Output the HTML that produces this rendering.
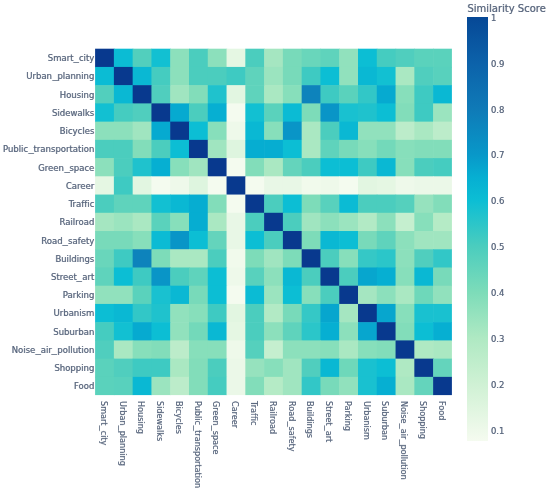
<!DOCTYPE html>
<html><head><meta charset="utf-8"><style>
html,body{margin:0;padding:0;background:#fff;width:550px;height:493px;overflow:hidden;position:relative}
body{font-family:"DejaVu Sans", "Liberation Sans", sans-serif;color:#5b687f;font-variant-ligatures:none}
.yl,.xl,.ct,#title{text-shadow:0.35px 0.35px 0 rgba(91,104,127,0.4),-0.35px -0.35px 0 rgba(91,104,127,0.4)}
.yl{position:absolute;right:455.70px;height:12px;line-height:12px;font-size:8.5px;white-space:nowrap;text-align:right}
.xl{position:absolute;top:400.60px;height:12px;line-height:12px;font-size:8.1px;white-space:nowrap;transform-origin:0 0;transform:rotate(90deg)}
.xl span{}
.ct{position:absolute;left:490.90px;height:12px;line-height:12px;font-size:8.5px;white-space:nowrap}

.u{display:inline-block;transform:scaleX(1.28);margin:0 0.6px}
#cb{position:absolute;left:467.20px;top:17.30px;width:20.70px;height:424.10px;background:linear-gradient(to top, rgb(245,251,240) 0.00%, rgb(238,249,234) 2.60%, rgb(207,241,212) 13.42%, rgb(175,233,195) 24.24%, rgb(125,220,185) 35.06%, rgb(75,205,190) 45.89%, rgb(12,190,212) 56.71%, rgb(6,175,210) 62.12%, rgb(8,152,201) 67.53%, rgb(15,122,183) 78.35%, rgb(12,98,170) 89.18%, rgb(6,72,150) 100.00%)}
#title{position:absolute;left:467.40px;top:2.50px;font-size:10px;line-height:12px;white-space:nowrap}
</style></head><body>
<svg width="550" height="493" style="position:absolute;left:0;top:0"><rect x="95.10" y="48.70" width="19.38" height="18.83" fill="rgb(8,57,142)"/><rect x="113.88" y="48.70" width="19.38" height="18.83" fill="rgb(11,188,212)"/><rect x="132.66" y="48.70" width="19.38" height="18.83" fill="rgb(82,207,189)"/><rect x="151.44" y="48.70" width="19.38" height="18.83" fill="rgb(18,192,210)"/><rect x="170.22" y="48.70" width="19.38" height="18.83" fill="rgb(140,224,188)"/><rect x="188.99" y="48.70" width="19.38" height="18.83" fill="rgb(75,205,190)"/><rect x="207.77" y="48.70" width="19.38" height="18.83" fill="rgb(140,224,188)"/><rect x="226.55" y="48.70" width="19.38" height="18.83" fill="rgb(229,247,227)"/><rect x="245.33" y="48.70" width="19.38" height="18.83" fill="rgb(75,205,190)"/><rect x="264.11" y="48.70" width="19.38" height="18.83" fill="rgb(165,230,193)"/><rect x="282.89" y="48.70" width="19.38" height="18.83" fill="rgb(120,218,186)"/><rect x="301.67" y="48.70" width="19.38" height="18.83" fill="rgb(105,214,187)"/><rect x="320.45" y="48.70" width="19.38" height="18.83" fill="rgb(95,211,188)"/><rect x="339.23" y="48.70" width="19.38" height="18.83" fill="rgb(145,225,189)"/><rect x="358.01" y="48.70" width="19.38" height="18.83" fill="rgb(12,190,212)"/><rect x="376.78" y="48.70" width="19.38" height="18.83" fill="rgb(69,204,192)"/><rect x="395.56" y="48.70" width="19.38" height="18.83" fill="rgb(80,206,190)"/><rect x="414.34" y="48.70" width="19.38" height="18.83" fill="rgb(90,210,188)"/><rect x="433.12" y="48.70" width="18.78" height="18.83" fill="rgb(90,210,188)"/><rect x="95.10" y="66.93" width="19.38" height="18.83" fill="rgb(11,188,212)"/><rect x="113.88" y="66.93" width="19.38" height="18.83" fill="rgb(8,57,142)"/><rect x="132.66" y="66.93" width="19.38" height="18.83" fill="rgb(10,184,211)"/><rect x="151.44" y="66.93" width="19.38" height="18.83" fill="rgb(69,204,192)"/><rect x="170.22" y="66.93" width="19.38" height="18.83" fill="rgb(140,224,188)"/><rect x="188.99" y="66.93" width="19.38" height="18.83" fill="rgb(75,205,190)"/><rect x="207.77" y="66.93" width="19.38" height="18.83" fill="rgb(75,205,190)"/><rect x="226.55" y="66.93" width="19.38" height="18.83" fill="rgb(62,202,194)"/><rect x="245.33" y="66.93" width="19.38" height="18.83" fill="rgb(95,211,188)"/><rect x="264.11" y="66.93" width="19.38" height="18.83" fill="rgb(155,228,191)"/><rect x="282.89" y="66.93" width="19.38" height="18.83" fill="rgb(120,218,186)"/><rect x="301.67" y="66.93" width="19.38" height="18.83" fill="rgb(62,202,194)"/><rect x="320.45" y="66.93" width="19.38" height="18.83" fill="rgb(12,190,212)"/><rect x="339.23" y="66.93" width="19.38" height="18.83" fill="rgb(145,225,189)"/><rect x="358.01" y="66.93" width="19.38" height="18.83" fill="rgb(10,184,211)"/><rect x="376.78" y="66.93" width="19.38" height="18.83" fill="rgb(18,192,210)"/><rect x="395.56" y="66.93" width="19.38" height="18.83" fill="rgb(170,232,194)"/><rect x="414.34" y="66.93" width="19.38" height="18.83" fill="rgb(80,206,190)"/><rect x="433.12" y="66.93" width="18.78" height="18.83" fill="rgb(88,209,189)"/><rect x="95.10" y="85.16" width="19.38" height="18.83" fill="rgb(82,207,189)"/><rect x="113.88" y="85.16" width="19.38" height="18.83" fill="rgb(10,184,211)"/><rect x="132.66" y="85.16" width="19.38" height="18.83" fill="rgb(8,57,142)"/><rect x="151.44" y="85.16" width="19.38" height="18.83" fill="rgb(80,206,190)"/><rect x="170.22" y="85.16" width="19.38" height="18.83" fill="rgb(160,229,192)"/><rect x="188.99" y="85.16" width="19.38" height="18.83" fill="rgb(130,221,186)"/><rect x="207.77" y="85.16" width="19.38" height="18.83" fill="rgb(31,194,205)"/><rect x="226.55" y="85.16" width="19.38" height="18.83" fill="rgb(226,246,225)"/><rect x="245.33" y="85.16" width="19.38" height="18.83" fill="rgb(95,211,188)"/><rect x="264.11" y="85.16" width="19.38" height="18.83" fill="rgb(170,232,194)"/><rect x="282.89" y="85.16" width="19.38" height="18.83" fill="rgb(135,223,187)"/><rect x="301.67" y="85.16" width="19.38" height="18.83" fill="rgb(13,131,188)"/><rect x="320.45" y="85.16" width="19.38" height="18.83" fill="rgb(62,202,194)"/><rect x="339.23" y="85.16" width="19.38" height="18.83" fill="rgb(90,210,188)"/><rect x="358.01" y="85.16" width="19.38" height="18.83" fill="rgb(50,199,199)"/><rect x="376.78" y="85.16" width="19.38" height="18.83" fill="rgb(6,170,208)"/><rect x="395.56" y="85.16" width="19.38" height="18.83" fill="rgb(135,223,187)"/><rect x="414.34" y="85.16" width="19.38" height="18.83" fill="rgb(62,202,194)"/><rect x="433.12" y="85.16" width="18.78" height="18.83" fill="rgb(10,184,211)"/><rect x="95.10" y="103.39" width="19.38" height="18.83" fill="rgb(18,192,210)"/><rect x="113.88" y="103.39" width="19.38" height="18.83" fill="rgb(69,204,192)"/><rect x="132.66" y="103.39" width="19.38" height="18.83" fill="rgb(80,206,190)"/><rect x="151.44" y="103.39" width="19.38" height="18.83" fill="rgb(8,57,142)"/><rect x="170.22" y="103.39" width="19.38" height="18.83" fill="rgb(6,170,208)"/><rect x="188.99" y="103.39" width="19.38" height="18.83" fill="rgb(75,205,190)"/><rect x="207.77" y="103.39" width="19.38" height="18.83" fill="rgb(6,175,210)"/><rect x="226.55" y="103.39" width="19.38" height="18.83" fill="rgb(244,251,239)"/><rect x="245.33" y="103.39" width="19.38" height="18.83" fill="rgb(18,192,210)"/><rect x="264.11" y="103.39" width="19.38" height="18.83" fill="rgb(90,210,188)"/><rect x="282.89" y="103.39" width="19.38" height="18.83" fill="rgb(11,187,212)"/><rect x="301.67" y="103.39" width="19.38" height="18.83" fill="rgb(125,220,185)"/><rect x="320.45" y="103.39" width="19.38" height="18.83" fill="rgb(9,149,199)"/><rect x="339.23" y="103.39" width="19.38" height="18.83" fill="rgb(25,193,208)"/><rect x="358.01" y="103.39" width="19.38" height="18.83" fill="rgb(31,194,205)"/><rect x="376.78" y="103.39" width="19.38" height="18.83" fill="rgb(12,190,212)"/><rect x="395.56" y="103.39" width="19.38" height="18.83" fill="rgb(130,221,186)"/><rect x="414.34" y="103.39" width="19.38" height="18.83" fill="rgb(62,202,194)"/><rect x="433.12" y="103.39" width="18.78" height="18.83" fill="rgb(155,228,191)"/><rect x="95.10" y="121.63" width="19.38" height="18.83" fill="rgb(140,224,188)"/><rect x="113.88" y="121.63" width="19.38" height="18.83" fill="rgb(140,224,188)"/><rect x="132.66" y="121.63" width="19.38" height="18.83" fill="rgb(160,229,192)"/><rect x="151.44" y="121.63" width="19.38" height="18.83" fill="rgb(6,170,208)"/><rect x="170.22" y="121.63" width="19.38" height="18.83" fill="rgb(8,57,142)"/><rect x="188.99" y="121.63" width="19.38" height="18.83" fill="rgb(12,190,212)"/><rect x="207.77" y="121.63" width="19.38" height="18.83" fill="rgb(135,223,187)"/><rect x="226.55" y="121.63" width="19.38" height="18.83" fill="rgb(238,249,234)"/><rect x="245.33" y="121.63" width="19.38" height="18.83" fill="rgb(10,184,211)"/><rect x="264.11" y="121.63" width="19.38" height="18.83" fill="rgb(135,223,187)"/><rect x="282.89" y="121.63" width="19.38" height="18.83" fill="rgb(9,149,199)"/><rect x="301.67" y="121.63" width="19.38" height="18.83" fill="rgb(170,232,194)"/><rect x="320.45" y="121.63" width="19.38" height="18.83" fill="rgb(75,205,190)"/><rect x="339.23" y="121.63" width="19.38" height="18.83" fill="rgb(10,184,211)"/><rect x="358.01" y="121.63" width="19.38" height="18.83" fill="rgb(145,225,189)"/><rect x="376.78" y="121.63" width="19.38" height="18.83" fill="rgb(145,225,189)"/><rect x="395.56" y="121.63" width="19.38" height="18.83" fill="rgb(188,236,202)"/><rect x="414.34" y="121.63" width="19.38" height="18.83" fill="rgb(170,232,194)"/><rect x="433.12" y="121.63" width="18.78" height="18.83" fill="rgb(188,236,202)"/><rect x="95.10" y="139.86" width="19.38" height="18.83" fill="rgb(75,205,190)"/><rect x="113.88" y="139.86" width="19.38" height="18.83" fill="rgb(75,205,190)"/><rect x="132.66" y="139.86" width="19.38" height="18.83" fill="rgb(130,221,186)"/><rect x="151.44" y="139.86" width="19.38" height="18.83" fill="rgb(75,205,190)"/><rect x="170.22" y="139.86" width="19.38" height="18.83" fill="rgb(12,190,212)"/><rect x="188.99" y="139.86" width="19.38" height="18.83" fill="rgb(8,57,142)"/><rect x="207.77" y="139.86" width="19.38" height="18.83" fill="rgb(160,229,192)"/><rect x="226.55" y="139.86" width="19.38" height="18.83" fill="rgb(222,245,223)"/><rect x="245.33" y="139.86" width="19.38" height="18.83" fill="rgb(6,173,209)"/><rect x="264.11" y="139.86" width="19.38" height="18.83" fill="rgb(6,173,209)"/><rect x="282.89" y="139.86" width="19.38" height="18.83" fill="rgb(12,190,212)"/><rect x="301.67" y="139.86" width="19.38" height="18.83" fill="rgb(170,232,194)"/><rect x="320.45" y="139.86" width="19.38" height="18.83" fill="rgb(95,211,188)"/><rect x="339.23" y="139.86" width="19.38" height="18.83" fill="rgb(120,218,186)"/><rect x="358.01" y="139.86" width="19.38" height="18.83" fill="rgb(135,223,187)"/><rect x="376.78" y="139.86" width="19.38" height="18.83" fill="rgb(115,217,186)"/><rect x="395.56" y="139.86" width="19.38" height="18.83" fill="rgb(135,223,187)"/><rect x="414.34" y="139.86" width="19.38" height="18.83" fill="rgb(130,221,186)"/><rect x="433.12" y="139.86" width="18.78" height="18.83" fill="rgb(130,221,186)"/><rect x="95.10" y="158.09" width="19.38" height="18.83" fill="rgb(140,224,188)"/><rect x="113.88" y="158.09" width="19.38" height="18.83" fill="rgb(75,205,190)"/><rect x="132.66" y="158.09" width="19.38" height="18.83" fill="rgb(31,194,205)"/><rect x="151.44" y="158.09" width="19.38" height="18.83" fill="rgb(6,175,210)"/><rect x="170.22" y="158.09" width="19.38" height="18.83" fill="rgb(135,223,187)"/><rect x="188.99" y="158.09" width="19.38" height="18.83" fill="rgb(160,229,192)"/><rect x="207.77" y="158.09" width="19.38" height="18.83" fill="rgb(8,57,142)"/><rect x="226.55" y="158.09" width="19.38" height="18.83" fill="rgb(244,251,239)"/><rect x="245.33" y="158.09" width="19.38" height="18.83" fill="rgb(130,221,186)"/><rect x="264.11" y="158.09" width="19.38" height="18.83" fill="rgb(170,232,194)"/><rect x="282.89" y="158.09" width="19.38" height="18.83" fill="rgb(100,212,188)"/><rect x="301.67" y="158.09" width="19.38" height="18.83" fill="rgb(75,205,190)"/><rect x="320.45" y="158.09" width="19.38" height="18.83" fill="rgb(12,190,212)"/><rect x="339.23" y="158.09" width="19.38" height="18.83" fill="rgb(12,190,212)"/><rect x="358.01" y="158.09" width="19.38" height="18.83" fill="rgb(62,202,194)"/><rect x="376.78" y="158.09" width="19.38" height="18.83" fill="rgb(10,184,211)"/><rect x="395.56" y="158.09" width="19.38" height="18.83" fill="rgb(135,223,187)"/><rect x="414.34" y="158.09" width="19.38" height="18.83" fill="rgb(75,205,190)"/><rect x="433.12" y="158.09" width="18.78" height="18.83" fill="rgb(69,204,192)"/><rect x="95.10" y="176.32" width="19.38" height="18.83" fill="rgb(229,247,227)"/><rect x="113.88" y="176.32" width="19.38" height="18.83" fill="rgb(62,202,194)"/><rect x="132.66" y="176.32" width="19.38" height="18.83" fill="rgb(226,246,225)"/><rect x="151.44" y="176.32" width="19.38" height="18.83" fill="rgb(244,251,239)"/><rect x="170.22" y="176.32" width="19.38" height="18.83" fill="rgb(238,249,234)"/><rect x="188.99" y="176.32" width="19.38" height="18.83" fill="rgb(222,245,223)"/><rect x="207.77" y="176.32" width="19.38" height="18.83" fill="rgb(244,251,239)"/><rect x="226.55" y="176.32" width="19.38" height="18.83" fill="rgb(8,57,142)"/><rect x="245.33" y="176.32" width="19.38" height="18.83" fill="rgb(244,251,239)"/><rect x="264.11" y="176.32" width="19.38" height="18.83" fill="rgb(232,247,230)"/><rect x="282.89" y="176.32" width="19.38" height="18.83" fill="rgb(232,247,230)"/><rect x="301.67" y="176.32" width="19.38" height="18.83" fill="rgb(241,250,236)"/><rect x="320.45" y="176.32" width="19.38" height="18.83" fill="rgb(238,249,234)"/><rect x="339.23" y="176.32" width="19.38" height="18.83" fill="rgb(244,251,239)"/><rect x="358.01" y="176.32" width="19.38" height="18.83" fill="rgb(226,246,225)"/><rect x="376.78" y="176.32" width="19.38" height="18.83" fill="rgb(229,247,227)"/><rect x="395.56" y="176.32" width="19.38" height="18.83" fill="rgb(238,249,234)"/><rect x="414.34" y="176.32" width="19.38" height="18.83" fill="rgb(235,248,232)"/><rect x="433.12" y="176.32" width="18.78" height="18.83" fill="rgb(235,248,232)"/><rect x="95.10" y="194.55" width="19.38" height="18.83" fill="rgb(75,205,190)"/><rect x="113.88" y="194.55" width="19.38" height="18.83" fill="rgb(95,211,188)"/><rect x="132.66" y="194.55" width="19.38" height="18.83" fill="rgb(95,211,188)"/><rect x="151.44" y="194.55" width="19.38" height="18.83" fill="rgb(18,192,210)"/><rect x="170.22" y="194.55" width="19.38" height="18.83" fill="rgb(10,184,211)"/><rect x="188.99" y="194.55" width="19.38" height="18.83" fill="rgb(6,173,209)"/><rect x="207.77" y="194.55" width="19.38" height="18.83" fill="rgb(130,221,186)"/><rect x="226.55" y="194.55" width="19.38" height="18.83" fill="rgb(244,251,239)"/><rect x="245.33" y="194.55" width="19.38" height="18.83" fill="rgb(8,57,142)"/><rect x="264.11" y="194.55" width="19.38" height="18.83" fill="rgb(75,205,190)"/><rect x="282.89" y="194.55" width="19.38" height="18.83" fill="rgb(12,190,212)"/><rect x="301.67" y="194.55" width="19.38" height="18.83" fill="rgb(125,220,185)"/><rect x="320.45" y="194.55" width="19.38" height="18.83" fill="rgb(88,209,189)"/><rect x="339.23" y="194.55" width="19.38" height="18.83" fill="rgb(11,187,212)"/><rect x="358.01" y="194.55" width="19.38" height="18.83" fill="rgb(75,205,190)"/><rect x="376.78" y="194.55" width="19.38" height="18.83" fill="rgb(75,205,190)"/><rect x="395.56" y="194.55" width="19.38" height="18.83" fill="rgb(85,208,189)"/><rect x="414.34" y="194.55" width="19.38" height="18.83" fill="rgb(150,226,190)"/><rect x="433.12" y="194.55" width="18.78" height="18.83" fill="rgb(130,221,186)"/><rect x="95.10" y="212.78" width="19.38" height="18.83" fill="rgb(165,230,193)"/><rect x="113.88" y="212.78" width="19.38" height="18.83" fill="rgb(155,228,191)"/><rect x="132.66" y="212.78" width="19.38" height="18.83" fill="rgb(170,232,194)"/><rect x="151.44" y="212.78" width="19.38" height="18.83" fill="rgb(90,210,188)"/><rect x="170.22" y="212.78" width="19.38" height="18.83" fill="rgb(135,223,187)"/><rect x="188.99" y="212.78" width="19.38" height="18.83" fill="rgb(6,173,209)"/><rect x="207.77" y="212.78" width="19.38" height="18.83" fill="rgb(170,232,194)"/><rect x="226.55" y="212.78" width="19.38" height="18.83" fill="rgb(232,247,230)"/><rect x="245.33" y="212.78" width="19.38" height="18.83" fill="rgb(75,205,190)"/><rect x="264.11" y="212.78" width="19.38" height="18.83" fill="rgb(8,57,142)"/><rect x="282.89" y="212.78" width="19.38" height="18.83" fill="rgb(75,205,190)"/><rect x="301.67" y="212.78" width="19.38" height="18.83" fill="rgb(160,229,192)"/><rect x="320.45" y="212.78" width="19.38" height="18.83" fill="rgb(140,224,188)"/><rect x="339.23" y="212.78" width="19.38" height="18.83" fill="rgb(155,228,191)"/><rect x="358.01" y="212.78" width="19.38" height="18.83" fill="rgb(178,234,197)"/><rect x="376.78" y="212.78" width="19.38" height="18.83" fill="rgb(140,224,188)"/><rect x="395.56" y="212.78" width="19.38" height="18.83" fill="rgb(197,239,207)"/><rect x="414.34" y="212.78" width="19.38" height="18.83" fill="rgb(135,223,187)"/><rect x="433.12" y="212.78" width="18.78" height="18.83" fill="rgb(181,235,198)"/><rect x="95.10" y="231.02" width="19.38" height="18.83" fill="rgb(120,218,186)"/><rect x="113.88" y="231.02" width="19.38" height="18.83" fill="rgb(120,218,186)"/><rect x="132.66" y="231.02" width="19.38" height="18.83" fill="rgb(135,223,187)"/><rect x="151.44" y="231.02" width="19.38" height="18.83" fill="rgb(11,187,212)"/><rect x="170.22" y="231.02" width="19.38" height="18.83" fill="rgb(9,149,199)"/><rect x="188.99" y="231.02" width="19.38" height="18.83" fill="rgb(12,190,212)"/><rect x="207.77" y="231.02" width="19.38" height="18.83" fill="rgb(100,212,188)"/><rect x="226.55" y="231.02" width="19.38" height="18.83" fill="rgb(232,247,230)"/><rect x="245.33" y="231.02" width="19.38" height="18.83" fill="rgb(12,190,212)"/><rect x="264.11" y="231.02" width="19.38" height="18.83" fill="rgb(75,205,190)"/><rect x="282.89" y="231.02" width="19.38" height="18.83" fill="rgb(8,57,142)"/><rect x="301.67" y="231.02" width="19.38" height="18.83" fill="rgb(125,220,185)"/><rect x="320.45" y="231.02" width="19.38" height="18.83" fill="rgb(10,184,211)"/><rect x="339.23" y="231.02" width="19.38" height="18.83" fill="rgb(12,190,212)"/><rect x="358.01" y="231.02" width="19.38" height="18.83" fill="rgb(120,218,186)"/><rect x="376.78" y="231.02" width="19.38" height="18.83" fill="rgb(95,211,188)"/><rect x="395.56" y="231.02" width="19.38" height="18.83" fill="rgb(140,224,188)"/><rect x="414.34" y="231.02" width="19.38" height="18.83" fill="rgb(160,229,192)"/><rect x="433.12" y="231.02" width="18.78" height="18.83" fill="rgb(160,229,192)"/><rect x="95.10" y="249.25" width="19.38" height="18.83" fill="rgb(105,214,187)"/><rect x="113.88" y="249.25" width="19.38" height="18.83" fill="rgb(62,202,194)"/><rect x="132.66" y="249.25" width="19.38" height="18.83" fill="rgb(13,131,188)"/><rect x="151.44" y="249.25" width="19.38" height="18.83" fill="rgb(125,220,185)"/><rect x="170.22" y="249.25" width="19.38" height="18.83" fill="rgb(170,232,194)"/><rect x="188.99" y="249.25" width="19.38" height="18.83" fill="rgb(170,232,194)"/><rect x="207.77" y="249.25" width="19.38" height="18.83" fill="rgb(75,205,190)"/><rect x="226.55" y="249.25" width="19.38" height="18.83" fill="rgb(241,250,236)"/><rect x="245.33" y="249.25" width="19.38" height="18.83" fill="rgb(125,220,185)"/><rect x="264.11" y="249.25" width="19.38" height="18.83" fill="rgb(160,229,192)"/><rect x="282.89" y="249.25" width="19.38" height="18.83" fill="rgb(125,220,185)"/><rect x="301.67" y="249.25" width="19.38" height="18.83" fill="rgb(8,57,142)"/><rect x="320.45" y="249.25" width="19.38" height="18.83" fill="rgb(75,205,190)"/><rect x="339.23" y="249.25" width="19.38" height="18.83" fill="rgb(135,223,187)"/><rect x="358.01" y="249.25" width="19.38" height="18.83" fill="rgb(53,200,198)"/><rect x="376.78" y="249.25" width="19.38" height="18.83" fill="rgb(43,198,201)"/><rect x="395.56" y="249.25" width="19.38" height="18.83" fill="rgb(140,224,188)"/><rect x="414.34" y="249.25" width="19.38" height="18.83" fill="rgb(80,206,190)"/><rect x="433.12" y="249.25" width="18.78" height="18.83" fill="rgb(50,199,199)"/><rect x="95.10" y="267.48" width="19.38" height="18.83" fill="rgb(95,211,188)"/><rect x="113.88" y="267.48" width="19.38" height="18.83" fill="rgb(12,190,212)"/><rect x="132.66" y="267.48" width="19.38" height="18.83" fill="rgb(62,202,194)"/><rect x="151.44" y="267.48" width="19.38" height="18.83" fill="rgb(9,149,199)"/><rect x="170.22" y="267.48" width="19.38" height="18.83" fill="rgb(75,205,190)"/><rect x="188.99" y="267.48" width="19.38" height="18.83" fill="rgb(95,211,188)"/><rect x="207.77" y="267.48" width="19.38" height="18.83" fill="rgb(12,190,212)"/><rect x="226.55" y="267.48" width="19.38" height="18.83" fill="rgb(238,249,234)"/><rect x="245.33" y="267.48" width="19.38" height="18.83" fill="rgb(88,209,189)"/><rect x="264.11" y="267.48" width="19.38" height="18.83" fill="rgb(140,224,188)"/><rect x="282.89" y="267.48" width="19.38" height="18.83" fill="rgb(10,184,211)"/><rect x="301.67" y="267.48" width="19.38" height="18.83" fill="rgb(75,205,190)"/><rect x="320.45" y="267.48" width="19.38" height="18.83" fill="rgb(8,57,142)"/><rect x="339.23" y="267.48" width="19.38" height="18.83" fill="rgb(75,205,190)"/><rect x="358.01" y="267.48" width="19.38" height="18.83" fill="rgb(7,166,206)"/><rect x="376.78" y="267.48" width="19.38" height="18.83" fill="rgb(6,175,210)"/><rect x="395.56" y="267.48" width="19.38" height="18.83" fill="rgb(135,223,187)"/><rect x="414.34" y="267.48" width="19.38" height="18.83" fill="rgb(10,184,211)"/><rect x="433.12" y="267.48" width="18.78" height="18.83" fill="rgb(120,218,186)"/><rect x="95.10" y="285.71" width="19.38" height="18.83" fill="rgb(145,225,189)"/><rect x="113.88" y="285.71" width="19.38" height="18.83" fill="rgb(145,225,189)"/><rect x="132.66" y="285.71" width="19.38" height="18.83" fill="rgb(90,210,188)"/><rect x="151.44" y="285.71" width="19.38" height="18.83" fill="rgb(25,193,208)"/><rect x="170.22" y="285.71" width="19.38" height="18.83" fill="rgb(10,184,211)"/><rect x="188.99" y="285.71" width="19.38" height="18.83" fill="rgb(120,218,186)"/><rect x="207.77" y="285.71" width="19.38" height="18.83" fill="rgb(12,190,212)"/><rect x="226.55" y="285.71" width="19.38" height="18.83" fill="rgb(244,251,239)"/><rect x="245.33" y="285.71" width="19.38" height="18.83" fill="rgb(11,187,212)"/><rect x="264.11" y="285.71" width="19.38" height="18.83" fill="rgb(155,228,191)"/><rect x="282.89" y="285.71" width="19.38" height="18.83" fill="rgb(12,190,212)"/><rect x="301.67" y="285.71" width="19.38" height="18.83" fill="rgb(135,223,187)"/><rect x="320.45" y="285.71" width="19.38" height="18.83" fill="rgb(75,205,190)"/><rect x="339.23" y="285.71" width="19.38" height="18.83" fill="rgb(8,57,142)"/><rect x="358.01" y="285.71" width="19.38" height="18.83" fill="rgb(165,230,193)"/><rect x="376.78" y="285.71" width="19.38" height="18.83" fill="rgb(140,224,188)"/><rect x="395.56" y="285.71" width="19.38" height="18.83" fill="rgb(170,232,194)"/><rect x="414.34" y="285.71" width="19.38" height="18.83" fill="rgb(110,216,186)"/><rect x="433.12" y="285.71" width="18.78" height="18.83" fill="rgb(145,225,189)"/><rect x="95.10" y="303.94" width="19.38" height="18.83" fill="rgb(12,190,212)"/><rect x="113.88" y="303.94" width="19.38" height="18.83" fill="rgb(10,184,211)"/><rect x="132.66" y="303.94" width="19.38" height="18.83" fill="rgb(50,199,199)"/><rect x="151.44" y="303.94" width="19.38" height="18.83" fill="rgb(31,194,205)"/><rect x="170.22" y="303.94" width="19.38" height="18.83" fill="rgb(145,225,189)"/><rect x="188.99" y="303.94" width="19.38" height="18.83" fill="rgb(135,223,187)"/><rect x="207.77" y="303.94" width="19.38" height="18.83" fill="rgb(62,202,194)"/><rect x="226.55" y="303.94" width="19.38" height="18.83" fill="rgb(226,246,225)"/><rect x="245.33" y="303.94" width="19.38" height="18.83" fill="rgb(75,205,190)"/><rect x="264.11" y="303.94" width="19.38" height="18.83" fill="rgb(178,234,197)"/><rect x="282.89" y="303.94" width="19.38" height="18.83" fill="rgb(120,218,186)"/><rect x="301.67" y="303.94" width="19.38" height="18.83" fill="rgb(53,200,198)"/><rect x="320.45" y="303.94" width="19.38" height="18.83" fill="rgb(7,166,206)"/><rect x="339.23" y="303.94" width="19.38" height="18.83" fill="rgb(165,230,193)"/><rect x="358.01" y="303.94" width="19.38" height="18.83" fill="rgb(8,57,142)"/><rect x="376.78" y="303.94" width="19.38" height="18.83" fill="rgb(7,166,206)"/><rect x="395.56" y="303.94" width="19.38" height="18.83" fill="rgb(135,223,187)"/><rect x="414.34" y="303.94" width="19.38" height="18.83" fill="rgb(25,193,208)"/><rect x="433.12" y="303.94" width="18.78" height="18.83" fill="rgb(25,193,208)"/><rect x="95.10" y="322.17" width="19.38" height="18.83" fill="rgb(69,204,192)"/><rect x="113.88" y="322.17" width="19.38" height="18.83" fill="rgb(18,192,210)"/><rect x="132.66" y="322.17" width="19.38" height="18.83" fill="rgb(6,170,208)"/><rect x="151.44" y="322.17" width="19.38" height="18.83" fill="rgb(12,190,212)"/><rect x="170.22" y="322.17" width="19.38" height="18.83" fill="rgb(145,225,189)"/><rect x="188.99" y="322.17" width="19.38" height="18.83" fill="rgb(115,217,186)"/><rect x="207.77" y="322.17" width="19.38" height="18.83" fill="rgb(10,184,211)"/><rect x="226.55" y="322.17" width="19.38" height="18.83" fill="rgb(229,247,227)"/><rect x="245.33" y="322.17" width="19.38" height="18.83" fill="rgb(75,205,190)"/><rect x="264.11" y="322.17" width="19.38" height="18.83" fill="rgb(140,224,188)"/><rect x="282.89" y="322.17" width="19.38" height="18.83" fill="rgb(95,211,188)"/><rect x="301.67" y="322.17" width="19.38" height="18.83" fill="rgb(43,198,201)"/><rect x="320.45" y="322.17" width="19.38" height="18.83" fill="rgb(6,175,210)"/><rect x="339.23" y="322.17" width="19.38" height="18.83" fill="rgb(140,224,188)"/><rect x="358.01" y="322.17" width="19.38" height="18.83" fill="rgb(7,166,206)"/><rect x="376.78" y="322.17" width="19.38" height="18.83" fill="rgb(8,57,142)"/><rect x="395.56" y="322.17" width="19.38" height="18.83" fill="rgb(130,221,186)"/><rect x="414.34" y="322.17" width="19.38" height="18.83" fill="rgb(12,190,212)"/><rect x="433.12" y="322.17" width="18.78" height="18.83" fill="rgb(6,175,210)"/><rect x="95.10" y="340.41" width="19.38" height="18.83" fill="rgb(80,206,190)"/><rect x="113.88" y="340.41" width="19.38" height="18.83" fill="rgb(170,232,194)"/><rect x="132.66" y="340.41" width="19.38" height="18.83" fill="rgb(135,223,187)"/><rect x="151.44" y="340.41" width="19.38" height="18.83" fill="rgb(130,221,186)"/><rect x="170.22" y="340.41" width="19.38" height="18.83" fill="rgb(188,236,202)"/><rect x="188.99" y="340.41" width="19.38" height="18.83" fill="rgb(135,223,187)"/><rect x="207.77" y="340.41" width="19.38" height="18.83" fill="rgb(135,223,187)"/><rect x="226.55" y="340.41" width="19.38" height="18.83" fill="rgb(238,249,234)"/><rect x="245.33" y="340.41" width="19.38" height="18.83" fill="rgb(85,208,189)"/><rect x="264.11" y="340.41" width="19.38" height="18.83" fill="rgb(197,239,207)"/><rect x="282.89" y="340.41" width="19.38" height="18.83" fill="rgb(140,224,188)"/><rect x="301.67" y="340.41" width="19.38" height="18.83" fill="rgb(140,224,188)"/><rect x="320.45" y="340.41" width="19.38" height="18.83" fill="rgb(135,223,187)"/><rect x="339.23" y="340.41" width="19.38" height="18.83" fill="rgb(170,232,194)"/><rect x="358.01" y="340.41" width="19.38" height="18.83" fill="rgb(135,223,187)"/><rect x="376.78" y="340.41" width="19.38" height="18.83" fill="rgb(130,221,186)"/><rect x="395.56" y="340.41" width="19.38" height="18.83" fill="rgb(8,57,142)"/><rect x="414.34" y="340.41" width="19.38" height="18.83" fill="rgb(175,233,195)"/><rect x="433.12" y="340.41" width="18.78" height="18.83" fill="rgb(170,232,194)"/><rect x="95.10" y="358.64" width="19.38" height="18.83" fill="rgb(90,210,188)"/><rect x="113.88" y="358.64" width="19.38" height="18.83" fill="rgb(80,206,190)"/><rect x="132.66" y="358.64" width="19.38" height="18.83" fill="rgb(62,202,194)"/><rect x="151.44" y="358.64" width="19.38" height="18.83" fill="rgb(62,202,194)"/><rect x="170.22" y="358.64" width="19.38" height="18.83" fill="rgb(170,232,194)"/><rect x="188.99" y="358.64" width="19.38" height="18.83" fill="rgb(130,221,186)"/><rect x="207.77" y="358.64" width="19.38" height="18.83" fill="rgb(75,205,190)"/><rect x="226.55" y="358.64" width="19.38" height="18.83" fill="rgb(235,248,232)"/><rect x="245.33" y="358.64" width="19.38" height="18.83" fill="rgb(150,226,190)"/><rect x="264.11" y="358.64" width="19.38" height="18.83" fill="rgb(135,223,187)"/><rect x="282.89" y="358.64" width="19.38" height="18.83" fill="rgb(160,229,192)"/><rect x="301.67" y="358.64" width="19.38" height="18.83" fill="rgb(80,206,190)"/><rect x="320.45" y="358.64" width="19.38" height="18.83" fill="rgb(10,184,211)"/><rect x="339.23" y="358.64" width="19.38" height="18.83" fill="rgb(110,216,186)"/><rect x="358.01" y="358.64" width="19.38" height="18.83" fill="rgb(25,193,208)"/><rect x="376.78" y="358.64" width="19.38" height="18.83" fill="rgb(12,190,212)"/><rect x="395.56" y="358.64" width="19.38" height="18.83" fill="rgb(175,233,195)"/><rect x="414.34" y="358.64" width="19.38" height="18.83" fill="rgb(8,57,142)"/><rect x="433.12" y="358.64" width="18.78" height="18.83" fill="rgb(100,212,188)"/><rect x="95.10" y="376.87" width="19.38" height="18.23" fill="rgb(90,210,188)"/><rect x="113.88" y="376.87" width="19.38" height="18.23" fill="rgb(88,209,189)"/><rect x="132.66" y="376.87" width="19.38" height="18.23" fill="rgb(10,184,211)"/><rect x="151.44" y="376.87" width="19.38" height="18.23" fill="rgb(155,228,191)"/><rect x="170.22" y="376.87" width="19.38" height="18.23" fill="rgb(188,236,202)"/><rect x="188.99" y="376.87" width="19.38" height="18.23" fill="rgb(130,221,186)"/><rect x="207.77" y="376.87" width="19.38" height="18.23" fill="rgb(69,204,192)"/><rect x="226.55" y="376.87" width="19.38" height="18.23" fill="rgb(235,248,232)"/><rect x="245.33" y="376.87" width="19.38" height="18.23" fill="rgb(130,221,186)"/><rect x="264.11" y="376.87" width="19.38" height="18.23" fill="rgb(181,235,198)"/><rect x="282.89" y="376.87" width="19.38" height="18.23" fill="rgb(160,229,192)"/><rect x="301.67" y="376.87" width="19.38" height="18.23" fill="rgb(50,199,199)"/><rect x="320.45" y="376.87" width="19.38" height="18.23" fill="rgb(120,218,186)"/><rect x="339.23" y="376.87" width="19.38" height="18.23" fill="rgb(145,225,189)"/><rect x="358.01" y="376.87" width="19.38" height="18.23" fill="rgb(25,193,208)"/><rect x="376.78" y="376.87" width="19.38" height="18.23" fill="rgb(6,175,210)"/><rect x="395.56" y="376.87" width="19.38" height="18.23" fill="rgb(170,232,194)"/><rect x="414.34" y="376.87" width="19.38" height="18.23" fill="rgb(100,212,188)"/><rect x="433.12" y="376.87" width="18.78" height="18.23" fill="rgb(8,57,142)"/></svg>
<div class="yl" style="top:52.22px">Smart<span class="u">_</span>city</div>
<div class="yl" style="top:70.45px">Urban<span class="u">_</span>planning</div>
<div class="yl" style="top:88.68px">Housing</div>
<div class="yl" style="top:106.91px">Sidewalks</div>
<div class="yl" style="top:125.14px">Bicycles</div>
<div class="yl" style="top:143.37px">Public<span class="u">_</span>transportation</div>
<div class="yl" style="top:161.61px">Green<span class="u">_</span>space</div>
<div class="yl" style="top:179.84px">Career</div>
<div class="yl" style="top:198.07px">Traffic</div>
<div class="yl" style="top:216.30px">Railroad</div>
<div class="yl" style="top:234.53px">Road<span class="u">_</span>safety</div>
<div class="yl" style="top:252.76px">Buildings</div>
<div class="yl" style="top:270.99px">Street<span class="u">_</span>art</div>
<div class="yl" style="top:289.23px">Parking</div>
<div class="yl" style="top:307.46px">Urbanism</div>
<div class="yl" style="top:325.69px">Suburban</div>
<div class="yl" style="top:343.92px">Noise<span class="u">_</span>air<span class="u">_</span>pollution</div>
<div class="yl" style="top:362.15px">Shopping</div>
<div class="yl" style="top:380.38px">Food</div>
<div class="xl" style="left:109.79px">Smart<span class="u">_</span>city</div>
<div class="xl" style="left:128.57px">Urban<span class="u">_</span>planning</div>
<div class="xl" style="left:147.35px">Housing</div>
<div class="xl" style="left:166.13px">Sidewalks</div>
<div class="xl" style="left:184.91px">Bicycles</div>
<div class="xl" style="left:203.68px">Public<span class="u">_</span>transportation</div>
<div class="xl" style="left:222.46px">Green<span class="u">_</span>space</div>
<div class="xl" style="left:241.24px">Career</div>
<div class="xl" style="left:260.02px">Traffic</div>
<div class="xl" style="left:278.80px">Railroad</div>
<div class="xl" style="left:297.58px">Road<span class="u">_</span>safety</div>
<div class="xl" style="left:316.36px">Buildings</div>
<div class="xl" style="left:335.14px">Street<span class="u">_</span>art</div>
<div class="xl" style="left:353.92px">Parking</div>
<div class="xl" style="left:372.69px">Urbanism</div>
<div class="xl" style="left:391.47px">Suburban</div>
<div class="xl" style="left:410.25px">Noise<span class="u">_</span>air<span class="u">_</span>pollution</div>
<div class="xl" style="left:429.03px">Shopping</div>
<div class="xl" style="left:447.81px">Food</div>
<div id="cb"></div>
<div class="ct" style="top:424.88px">0.1</div>
<div class="ct" style="top:378.99px">0.2</div>
<div class="ct" style="top:333.09px">0.3</div>
<div class="ct" style="top:287.19px">0.4</div>
<div class="ct" style="top:241.29px">0.5</div>
<div class="ct" style="top:195.39px">0.6</div>
<div class="ct" style="top:149.49px">0.7</div>
<div class="ct" style="top:103.60px">0.8</div>
<div class="ct" style="top:57.70px">0.9</div>
<div class="ct" style="top:11.80px">1</div>
<div id="title">Similarity Score</div>
</body></html>
